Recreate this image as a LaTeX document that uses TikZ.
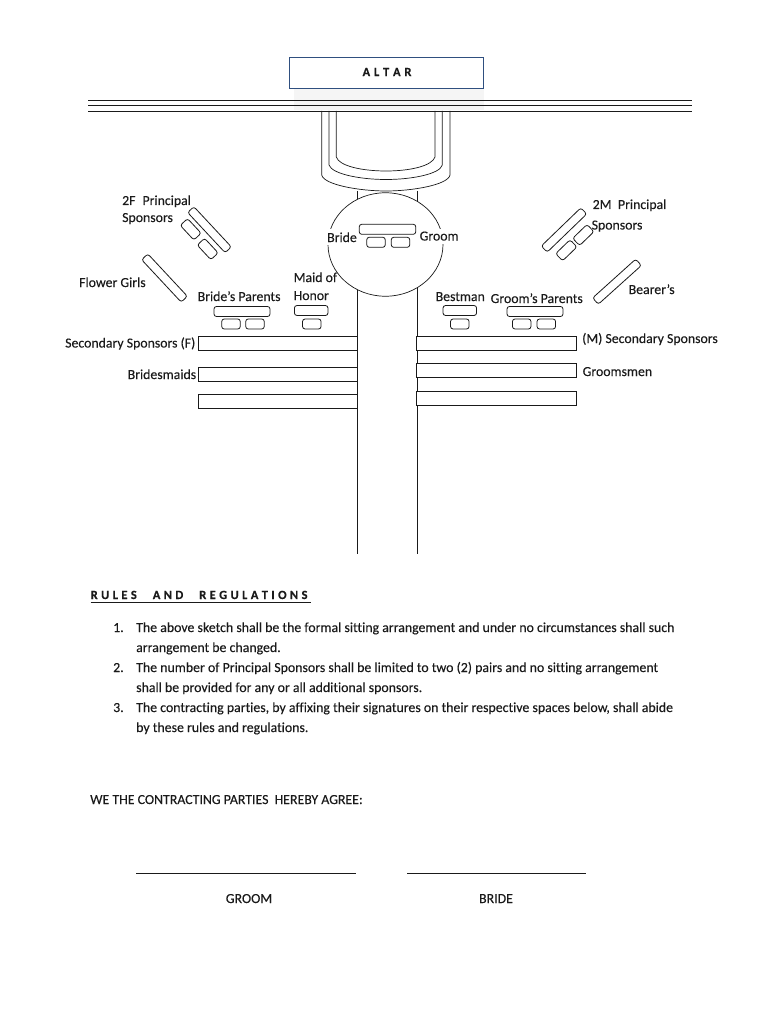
\documentclass[tikz,border=0pt]{standalone}
\usepackage{fontspec}
\usetikzlibrary{shapes.geometric}
\setmainfont{Carlito}[Ligatures=NoCommon,FakeBold=0.12,BoldFont=Carlito Bold,BoldFeatures={FakeBold=0.35}]
\definecolor{ink}{HTML}{1A1A1A}
\definecolor{altarblue}{HTML}{2F4F7F}
\tikzset{
 x=1pt,y=-1pt,
 seat/.style={draw=ink,line width=0.8pt,fill=white,rounded corners=2.5pt,inner sep=0pt,outer sep=0pt},
 chair/.style={seat,minimum width=18.5pt,minimum height=10pt},
 bench/.style={seat,minimum width=56pt,minimum height=10pt},
 solo/.style={seat,minimum width=33.5pt,minimum height=10pt},
 slant/.style={seat,minimum width=58pt,minimum height=8.5pt},
 pew/.style={draw=ink,line width=0.9pt,fill=white,inner sep=0pt,outer sep=0pt,minimum width=159.5pt,minimum height=14pt},
 lab/.style={font=\fontsize{13.8pt}{15pt}\selectfont,text=ink,inner sep=0pt,anchor=base west},
 gaplab/.style={lab,fill=white,inner ysep=3pt,inner xsep=1pt},
 bodytext/.style={font=\fontsize{13.85pt}{15pt}\selectfont,text=ink,inner sep=0pt,anchor=base west},
 rail/.style={draw=ink,line width=0.9pt},
 thin/.style={draw=ink,line width=0.7pt},
}
\begin{document}
\begin{tikzpicture}
\useasboundingbox (0,0) rectangle (768,1024);
\fill[white] (0,0) rectangle (768,1024);
% altar
\fill[black!4] (294,88) rectangle (484,110);
\node[draw=altarblue,line width=0.8pt,fill=white,minimum width=194pt,minimum height=31pt,inner sep=0pt] (altar) at (386,72.5) {};
\node[font=\fontsize{12.5pt}{13pt}\selectfont\bfseries,text=ink,inner sep=0pt] (altartext) at (387,72) {A\hspace{3.8pt}L\hspace{3.8pt}T\hspace{3.8pt}A\hspace{3.8pt}R};
\draw[rail] (88,100.5) -- (692,100.5);
\draw[rail] (88,105.8) -- (692,105.8);
\draw[rail] (88,111) -- (692,111);
% steps
\draw[thin] (321.7,111) -- (321.7,175) .. controls (324,185) and (360,191) .. (386,191) .. controls (412,191) and (448,185) .. (450,175) -- (450,111);
\draw[thin] (329,111) -- (329,165) .. controls (332,174) and (360,179.5) .. (386,179.5) .. controls (412,179.5) and (440,174) .. (442.3,165) -- (442.3,111);
\draw[thin] (336.3,111) -- (336.3,157) .. controls (339,166) and (362,171) .. (386,171) .. controls (410,171) and (432,166) .. (435,157) -- (435,111);
% aisle
\coordinate (al) at (357.3,191); \coordinate (alb) at (357.3,553.5);
\coordinate (ar) at (417,191); \coordinate (arb) at (417,553.5);
\draw[thin] (al) -- (alb);
\draw[thin] (ar) -- (arb);
\node[draw=ink,line width=0.7pt,fill=white,ellipse,minimum width=115pt,minimum height=103.5pt,inner sep=0pt] (circ) at (385.5,244.5) {};
% head table
\node[seat,minimum width=56.5pt,minimum height=10pt] (headb) at (387.5,229.3) {};
\node[chair] (hc1) at (376,242.3) {};
\node[chair] (hc2) at (400.5,242.3) {};
% left seats
\node[slant,minimum width=55pt,rotate=-47] (p2f) at (209.5,229.7) {};
\node[seat,minimum width=20pt,minimum height=10pt,rotate=-47] (p2fa) at (190.7,229.3) {};
\node[seat,minimum width=20pt,minimum height=10pt,rotate=-47] (p2fb) at (207.7,249) {};
\node[slant,rotate=-47] (fg) at (164.5,278) {};
\node[bench] (bp) at (242,311.5) {};
\node[chair] (bp1) at (231,324) {};
\node[chair] (bp2) at (255,324) {};
\node[solo] (mh) at (311.2,310.5) {};
\node[chair] (mh1) at (311.8,324) {};
\node[pew] (lp1) at (277.7,343) {};
\node[pew] (lp2) at (277.7,374.3) {};
\node[pew] (lp3) at (277.7,401) {};
% right seats
\node[slant,minimum width=55pt,rotate=44] (p2m) at (564,230) {};
\node[seat,minimum width=20pt,minimum height=10pt,rotate=44] (p2ma) at (583.3,235) {};
\node[seat,minimum width=20pt,minimum height=10pt,rotate=44] (p2mb) at (566.3,250.3) {};
\node[slant,rotate=42] (bear) at (617,281.7) {};
\node[solo] (bm) at (459.8,310.5) {};
\node[chair] (bm1) at (459.8,324) {};
\node[bench] (gp) at (535,311.5) {};
\node[chair] (gp1) at (521.7,324) {};
\node[chair] (gp2) at (546.3,324) {};
\node[pew] (rp1) at (496.5,343) {};
\node[pew] (rp2) at (496.5,370.2) {};
\node[pew] (rp3) at (496.5,398) {};
% labels
\node[lab] (l1) at (122,205) {2F\hspace{7pt}Principal};
\node[lab] (l2) at (122,222) {Sponsors};
\node[lab] (l3) at (79,287) {Flower Girls};
\node[gaplab] (l4) at (326,242) {Bride};
\node[gaplab] (l5) at (418.5,240.5) {Groom};
\node[lab] (l6) at (197.5,301) {Bride’s Parents};
\node[lab] (l7) at (293.5,282) {Maid of};
\node[lab] (l8) at (293.5,300) {Honor};
\node[lab] (l9) at (435.5,301) {Bestman};
\node[lab] (l10) at (490.5,303) {Groom’s Parents};
\node[lab] (l11) at (592.5,209) {2M\hspace{6.5pt}Principal};
\node[lab] (l12) at (591.5,229.5) {Sponsors};
\node[lab] (l13) at (628.5,294) {Bearer’s};
\node[lab] (l14) at (65,347.5) {Secondary Sponsors (F)};
\node[lab] (l15) at (127.5,379) {Bridesmaids};
\node[lab] (l16) at (582,343) {(M) Secondary Sponsors};
\node[lab] (l17) at (582.5,376) {Groomsmen};
% rules
\node[bodytext,font=\fontsize{12.5pt}{14pt}\selectfont\bfseries] (r0) at (90.5,599) {R\hspace{3.4pt}U\hspace{3.4pt}L\hspace{3.4pt}E\hspace{3.4pt}S\hspace{16pt}A\hspace{3.4pt}N\hspace{3.4pt}D\hspace{16pt}R\hspace{3.4pt}E\hspace{3.4pt}G\hspace{3.4pt}U\hspace{3.4pt}L\hspace{3.4pt}A\hspace{3.4pt}T\hspace{3.4pt}I\hspace{3.4pt}O\hspace{3.4pt}N\hspace{3.4pt}S};
\coordinate (ru1) at (90.5,602); \coordinate (ru2) at (311,602);
\draw[draw=ink,line width=0.8pt] (ru1) -- (ru2);
\node[bodytext] (n1) at (113,632) {1.};
\node[bodytext] (t1a) at (136,632) {The above sketch shall be the formal sitting arrangement and under no circumstances shall such};
\node[bodytext] (t1b) at (136,652) {arrangement be changed.};
\node[bodytext] (n2) at (113,672) {2.};
\node[bodytext] (t2a) at (136,672) {The number of Principal Sponsors shall be limited to two (2) pairs and no sitting arrangement};
\node[bodytext] (t2b) at (136,692) {shall be provided for any or all additional sponsors.};
\node[bodytext] (n3) at (113,712) {3.};
\node[bodytext] (t3a) at (136,712) {The contracting parties, by affixing their signatures on their respective spaces below, shall abide};
\node[bodytext] (t3b) at (136,732) {by these rules and regulations.};
\node[bodytext] (we) at (90,804) {WE THE CONTRACTING PARTIES\hspace{3pt} HEREBY AGREE:};
\coordinate (s1a) at (136,873.5); \coordinate (s1b) at (355.5,873.5);
\coordinate (s2a) at (407,873.5); \coordinate (s2b) at (586,873.5);
\draw[draw=ink,line width=0.7pt] (s1a) -- (s1b);
\draw[draw=ink,line width=0.7pt] (s2a) -- (s2b);
\node[bodytext,anchor=base] (groom) at (249,903) {GROOM};
\node[bodytext,anchor=base] (bride) at (496,903) {BRIDE};
\end{tikzpicture}
\end{document}
